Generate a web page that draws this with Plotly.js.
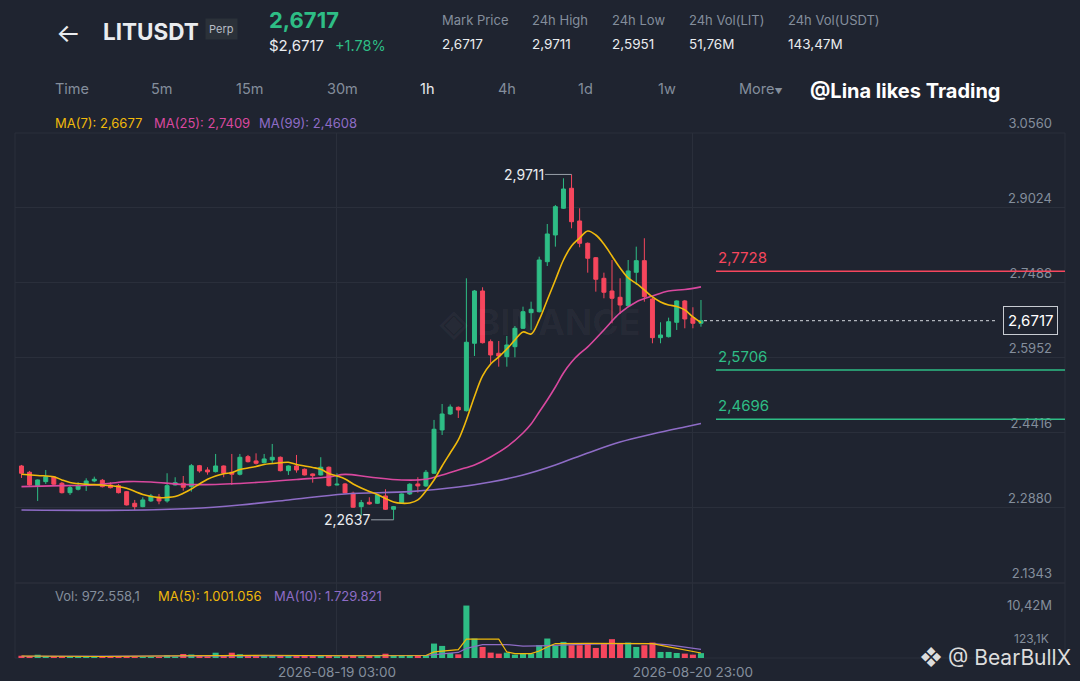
<!DOCTYPE html>
<html>
<head>
<meta charset="utf-8">
<script src="https://cdn.plot.ly/plotly-3.0.1.min.js"></script>
<style>
html,body{margin:0;padding:0;background:#1f2430;}
#chart{width:1080px;height:681px;}
</style>
</head>
<body>
<div id="chart"></div>
<script>
// ---------------- DATA ----------------
const startTime = '2026-08-17 12:00';   // first hourly candle
const openP = [2.3740,2.3611,2.3337,2.3419,2.3515,2.3386,2.3193,2.3263,2.3351,2.3433,
2.3447,2.3351,2.3337,2.3214,2.2976,2.2907,2.3024,2.3099,2.3024,2.3351,
2.3386,2.3317,2.3746,2.3658,2.3624,2.3740,2.3611,2.3570,2.3931,2.3843,
2.3808,2.3863,2.3918,2.3644,2.3740,2.3672,2.3577,2.3556,2.3714,2.3351,
2.3372,2.3181,2.2907,2.2997,2.2976,2.3126,2.2853,2.2976,2.3167,2.3372,
2.3331,2.3591,2.4478,2.4805,2.4942,2.4873,2.6253,2.7324,2.6286,2.6048,
2.5979,2.6183,2.6560,2.6880,2.6900,2.7924,2.8471,2.9018,2.9428,2.8758,
2.8301,2.8006,2.7584,2.7324,2.7195,2.7023,2.7707,2.7945,2.7160,2.6368,
2.6388,2.6683,2.7120,2.6778,2.6663];
const highP = [2.3761,2.3638,2.3464,2.3658,2.3535,2.3413,2.3341,2.3407,2.3488,2.3521,
2.3474,2.3407,2.3372,2.3228,2.3044,2.3099,2.3167,2.3167,2.3591,2.3509,
2.3535,2.3781,2.3761,2.3714,2.3986,2.3751,2.3986,2.3986,2.3966,2.3999,
2.3986,2.4191,2.3935,2.3751,2.3966,2.3689,2.3587,2.3919,2.3730,2.3591,
2.3392,2.3214,2.3044,2.3099,2.3157,2.3263,2.2921,2.3177,2.3386,2.3509,
2.3658,2.4683,2.5010,2.5000,2.4959,2.7584,2.7345,2.7400,2.6331,2.6300,
2.6403,2.6607,2.7003,2.7105,2.8027,2.8696,2.9086,2.9632,2.9711,2.9018,
2.8318,2.8020,2.7699,2.7959,2.7584,2.7959,2.8232,2.8404,2.7181,2.6683,
2.6778,2.7130,2.7140,2.6991,2.7140];
const lowP = [2.3495,2.3337,2.3024,2.3372,2.3351,2.3177,2.3146,2.3239,2.3228,2.3407,
2.3300,2.3280,2.3177,2.2931,2.2839,2.2895,2.3003,2.2956,2.2989,2.3341,
2.3235,2.3214,2.3603,2.3562,2.3607,2.3509,2.3351,2.3546,2.3812,2.3771,
2.3792,2.3796,2.3628,2.3556,2.3603,2.3546,2.3398,2.3546,2.3321,2.3341,
2.3177,2.2880,2.2716,2.2948,2.2962,2.2839,2.2637,2.2962,2.3146,2.3193,
2.3310,2.3577,2.4375,2.4785,2.4723,2.4856,2.5993,2.6249,2.5843,2.5774,
2.5774,2.5966,2.6546,2.6526,2.6884,2.7836,2.8232,2.9004,2.8608,2.8219,
2.7699,2.7310,2.7175,2.6663,2.6853,2.7007,2.7447,2.7105,2.6253,2.6253,
2.6372,2.6526,2.6560,2.6560,2.6593];
const closeP = [2.3591,2.3351,2.3454,2.3521,2.3366,2.3193,2.3296,2.3331,2.3433,2.3468,
2.3317,2.3296,2.3193,2.2942,2.2907,2.3044,2.3126,2.3024,2.3337,2.3398,
2.3304,2.3746,2.3638,2.3618,2.3740,2.3591,2.3570,2.3918,2.3828,2.3795,
2.3884,2.3918,2.3644,2.3740,2.3658,2.3556,2.3542,2.3714,2.3337,2.3366,
2.3188,2.2895,2.2989,2.2962,2.3146,2.2853,2.2907,2.3167,2.3366,2.3331,
2.3611,2.4492,2.4805,2.4948,2.4887,2.6274,2.7324,2.6265,2.6014,2.5993,
2.6218,2.6560,2.6900,2.6949,2.7959,2.8492,2.9051,2.9413,2.8743,2.8301,
2.7994,2.7564,2.7298,2.7175,2.7037,2.7734,2.7945,2.7208,2.6368,2.6423,
2.6695,2.7120,2.6751,2.6663,2.6717];
// volume in millions
const volumeM = [0.45,0.40,0.65,0.40,0.35,0.30,0.30,0.25,0.25,0.20,
0.25,0.20,0.25,0.30,0.25,0.20,0.25,0.20,0.55,0.30,
0.80,0.70,0.45,0.35,1.05,0.60,1.05,0.75,0.50,0.45,
0.60,0.50,0.55,0.45,0.50,0.45,0.40,0.50,0.45,0.35,
0.40,0.45,0.35,0.40,0.50,0.85,0.50,0.50,0.55,0.50,
0.55,2.87,2.40,1.00,0.73,10.42,3.87,2.20,1.07,0.87,
1.07,0.67,0.87,0.87,2.54,3.87,2.40,3.20,2.54,2.54,
2.87,2.00,2.87,3.74,2.87,3.07,2.20,2.54,3.07,1.20,
1.20,1.00,0.87,0.67,0.97];

// moving averages (candle index -> value)
const ma7Idx = [0,2,4,5,6,8,10,12,13,15,17,18,19,20,21,22,23,24,25,26,27,28,29,30,32,33,34,35,36,37,38,39,40,41,42,43,44,45,46,47,48,49,50,51,52,53,54,55,56,57,58,59,60,61,62,63,64,65,66,67,68,69,70,71,72,73,74,75,76,77,78,79,80,81,82,83,84];
const ma7Val = [2.3570,2.3546,2.3521,2.3454,2.3403,2.3366,2.3351,2.3317,2.3284,2.3157,2.3091,2.3095,2.3116,2.3181,2.3269,2.3372,2.3468,2.3535,2.3581,2.3603,2.3669,2.3699,2.3730,2.3771,2.3805,2.3816,2.3771,2.3740,2.3710,2.3673,2.3586,2.3535,2.3474,2.3372,2.3290,2.3218,2.3157,2.3075,2.3003,2.2976,2.2983,2.3044,2.3228,2.3454,2.3740,2.4006,2.4273,2.4682,2.5164,2.5584,2.5829,2.5973,2.6136,2.6321,2.6485,2.6444,2.6731,2.7141,2.7550,2.7959,2.8246,2.8410,2.8553,2.8471,2.8287,2.8041,2.7796,2.7591,2.7478,2.7345,2.7202,2.7100,2.7038,2.7007,2.6936,2.6792,2.6677];
const ma25Idx = [0,5,9,11,13,16,20,24,27,30,34,38,40,43,47,50,52,54,56,58,60,62,63,64,65,66,67,68,69,70,72,74,76,78,80,82,84];
const ma25Val = [2.3317,2.3337,2.3351,2.3386,2.3419,2.3413,2.3362,2.3362,2.3382,2.3413,2.3464,2.3515,2.3567,2.3515,2.3454,2.3468,2.3556,2.3659,2.3761,2.3925,2.4130,2.4416,2.4600,2.4846,2.5092,2.5358,2.5645,2.5870,2.6040,2.6180,2.6526,2.6874,2.7100,2.7222,2.7325,2.7355,2.7409];
const ma99Idx = [0,13,21,27,33,40,48,54,58,62,66,70,74,78,82,84];
const ma99Val = [2.2839,2.2833,2.2870,2.2942,2.3044,2.3167,2.3214,2.3310,2.3413,2.3556,2.3761,2.4006,2.4231,2.4395,2.4539,2.4608];
const vma5Idx = [0,10,20,30,40,50,51,53,54,55,59,60,61,63,64,65,66,70,74,78,80,82,84];
const vma5Val = [0.40,0.30,0.45,0.55,0.45,0.50,1.20,1.50,1.67,3.74,3.74,1.20,0.87,0.87,1.40,2.20,2.87,2.90,2.90,2.87,2.20,1.54,1.00];
const vma10Idx = [0,20,40,50,52,53,54,55,57,60,62,64,66,68,70,74,78,80,82,84];
const vma10Val = [0.35,0.45,0.45,0.50,0.80,1.00,1.10,1.90,2.67,2.67,2.34,2.40,2.55,2.67,2.75,2.87,2.87,2.60,2.20,1.73];

// axis ticks and levels
const priceTicks = [3.0560,2.9024,2.7488,2.5952,2.4416,2.2880,2.1343];
const priceTickText = ['3.0560','2.9024','2.7488','2.5952','2.4416','2.2880','2.1343'];
const timeTicks = ['2026-08-19 03:00','2026-08-20 23:00'];
const levels = [2.7728, 2.5706, 2.4696];
const levelText = ['2,7728','2,5706','2,4696'];
const lastPrice = 2.6717;
const peakHigh = 2.9711, troughLow = 2.2637;

// ---------------- BUILD ----------------
const GREEN = '#2ebd85', RED = '#f6465d', YEL = '#f0b90b', PINK = '#d9489f', PURP = '#8e6cc6';
const GRID = '#2a2f3b', BG = '#1f2430', GRAY = '#848e9c', WHITE = '#eaecef';
const FONT = 'Inter, "Noto Sans", sans-serif';

function fmt(d){ return d.toISOString().slice(0,16).replace('T',' '); }
const t0 = new Date(startTime.replace(' ','T') + ':00Z').getTime();
const times = openP.map((_, i) => fmt(new Date(t0 + i*3600000)));
const pick = (idx) => idx.map(i => times[i]);

const W = 1080, H = 681;
const px = x => x / W, py = y => 1 - y / H;

const traces = [
  {type:'candlestick', x:times, open:openP, high:highP, low:lowP, close:closeP,
   xaxis:'x', yaxis:'y', whiskerwidth:0,
   increasing:{line:{color:GREEN,width:1}, fillcolor:GREEN},
   decreasing:{line:{color:RED,width:1}, fillcolor:RED}, hoverinfo:'skip', showlegend:false},
  {type:'scatter', mode:'lines', x:pick(ma99Idx), y:ma99Val, line:{color:PURP,width:1.6,shape:'spline'}, xaxis:'x', yaxis:'y', hoverinfo:'skip'},
  {type:'scatter', mode:'lines', x:pick(ma25Idx), y:ma25Val, line:{color:PINK,width:1.6,shape:'spline'}, xaxis:'x', yaxis:'y', hoverinfo:'skip'},
  {type:'scatter', mode:'lines', x:pick(ma7Idx), y:ma7Val, line:{color:YEL,width:1.6,shape:'spline'}, xaxis:'x', yaxis:'y', hoverinfo:'skip'},
  {type:'bar', x:times, y:volumeM.map(v => v*1e6), xaxis:'x', yaxis:'y2',
   marker:{color:closeP.map((c,i) => c >= openP[i] ? GREEN : RED), line:{width:0}}, hoverinfo:'skip'},
  {type:'scatter', mode:'lines', x:pick(vma10Idx), y:vma10Val.map(v=>v*1e6), line:{color:PURP,width:1.2}, xaxis:'x', yaxis:'y2', hoverinfo:'skip'},
  {type:'scatter', mode:'lines', x:pick(vma5Idx), y:vma5Val.map(v=>v*1e6), line:{color:YEL,width:1.2}, xaxis:'x', yaxis:'y2', hoverinfo:'skip'}
];

function txt(x, y, text, size, color, extra){
  return Object.assign({xref:'paper', yref:'paper', x:px(x), y:py(y), text:text, showarrow:false,
    xanchor:'left', yanchor:'middle', font:{size:size, color:color, family:FONT}}, extra||{});
}

const ann = [
  txt(54, 32, '←', 26, WHITE),
  txt(101, 31, '<b>LITUSDT</b>', 22.5, WHITE),
  txt(205, 29, 'Perp', 11, '#b7bdc6', {bgcolor:'#2b3139', borderpad:3}),
  txt(267, 20, '<b>2,6717</b>', 22, GREEN),
  txt(267, 46, '$2,6717', 15, WHITE),
  txt(333, 46, '+1.78%', 14.5, GREEN),
  txt(440, 20, 'Mark Price', 13, GRAY), txt(440, 44, '2,6717', 13.5, WHITE),
  txt(530, 20, '24h High', 13, GRAY),   txt(530, 44, '2,9711', 13.5, WHITE),
  txt(610, 20, '24h Low', 13, GRAY),    txt(610, 44, '2,5951', 13.5, WHITE),
  txt(687, 20, '24h Vol(LIT)', 13, GRAY), txt(687, 44, '51,76M', 13.5, WHITE),
  txt(786, 20, '24h Vol(USDT)', 13, GRAY), txt(786, 44, '143,47M', 13.5, WHITE),
  txt(53, 88, 'Time', 14.5, GRAY),
  txt(149, 88, '5m', 14.5, GRAY),
  txt(234, 88, '15m', 14.5, GRAY),
  txt(325, 88, '30m', 14.5, GRAY),
  txt(418, 88, '1h', 14.5, WHITE),
  txt(496, 88, '4h', 14.5, GRAY),
  txt(576, 88, '1d', 14.5, GRAY),
  txt(656, 88, '1w', 14.5, GRAY),
  txt(737, 88, 'More<span style="font-size:8px">▼</span>', 14.5, GRAY),
  txt(808, 91, '<b>@Lina likes Trading</b>', 20, '#ffffff'),
  txt(53, 123, 'MA(7): 2,6677', 13, YEL),
  txt(152, 123, 'MA(25): 2,7409', 13, PINK),
  txt(257, 123, 'MA(99): 2,4608', 13, PURP),
  txt(53, 596, 'Vol: 972.558,1', 13, GRAY),
  txt(156, 596, 'MA(5): 1.001.056', 13, YEL),
  txt(272, 596, 'MA(10): 1.729.821', 13, PURP),
  txt(1051, 638, '123,1K', 12, GRAY, {xanchor:'right'}),
  txt(540, 322, '<b>◈ BINANCE</b>', 36, 'rgba(255,255,255,0.035)', {xanchor:'center'}),
  txt(1073, 657, '❖ @ BearBullX', 21, '#dcdcdc', {xanchor:'right'}),
  // high / low markers
  {xref:'x', yref:'y', x:times[highP.indexOf(peakHigh)], y:peakHigh, text:'2,9711', showarrow:true,
   arrowhead:0, arrowwidth:1, arrowcolor:'#9aa0a8', ax:-48, ay:0, font:{size:14,color:WHITE,family:FONT}},
  {xref:'x', yref:'y', x:times[lowP.indexOf(troughLow)], y:troughLow, text:'2,2637', showarrow:true,
   arrowhead:0, arrowwidth:1, arrowcolor:'#9aa0a8', ax:-47, ay:0, font:{size:14,color:WHITE,family:FONT}},
  // last price box
  {xref:'paper', yref:'y', x:px(1030), y:lastPrice, text:'2,6717', showarrow:false, xanchor:'center', yanchor:'middle',
   bgcolor:BG, bordercolor:'#c8ccd2', borderwidth:1, borderpad:4, font:{size:15,color:'#ffffff',family:FONT}}
];
levels.forEach((lv, k) => {
  ann.push({xref:'paper', yref:'y', x:px(716), y:lv, text:levelText[k], showarrow:false,
    xanchor:'left', yanchor:'bottom', yshift:2, font:{size:15, color: k===0 ? RED : GREEN, family:FONT}});
});

const shapes = [
  {type:'rect', xref:'paper', yref:'paper', x0:px(15), x1:px(1065), y0:py(583), y1:py(133), line:{color:GRID,width:1}, layer:'below'},
  {type:'rect', xref:'paper', yref:'paper', x0:px(15), x1:px(1065), y0:py(658), y1:py(583), line:{color:GRID,width:1}, layer:'below'},
  {type:'line', xref:'paper', yref:'y', x0:px(704), x1:px(998), y0:lastPrice, y1:lastPrice, line:{color:'#b0b4bb', width:1.2, dash:'dot'}}
];
levels.forEach((lv, k) => {
  shapes.push({type:'line', xref:'paper', yref:'y', x0:px(716), x1:px(1065), y0:lv, y1:lv,
    line:{color: k===0 ? RED : GREEN, width:1.5}});
});

const layout = {
  width:W, height:H, margin:{l:0,r:0,t:0,b:0},
  paper_bgcolor:BG, plot_bgcolor:BG, showlegend:false, bargap:0.25,
  font:{family:FONT, color:GRAY},
  xaxis:{domain:[px(15), px(1065)], anchor:'y2', type:'date',
    range:['2026-08-17 11:12','2026-08-22 21:00'],
    tickvals:timeTicks, ticktext:timeTicks, showgrid:true, gridcolor:GRID, gridwidth:1,
    zeroline:false, showline:false, ticks:'', tickfont:{size:13.5,color:GRAY,family:FONT},
    ticklabelstandoff:4, rangeslider:{visible:false}, fixedrange:true},
  yaxis:{domain:[1-583/H, 1-133/H], range:[2.1343, 3.0560], side:'right', anchor:'x',
    tickvals:priceTicks, ticktext:priceTickText, ticklabelposition:'inside top', ticklabeloverflow:'allow',
    ticklabelstandoff:10, showgrid:true, gridcolor:GRID, gridwidth:1, zeroline:false, ticks:'',
    tickfont:{size:13,color:GRAY,family:FONT}, fixedrange:true},
  yaxis2:{domain:[1-658/H, 1-583/H], range:[0, 14.9e6], side:'right', anchor:'x',
    tickvals:[10.42e6], ticktext:['10,42M'], ticklabelposition:'inside', ticklabeloverflow:'allow',
    ticklabelstandoff:10, showgrid:false, zeroline:false, ticks:'',
    tickfont:{size:13,color:GRAY,family:FONT}, fixedrange:true},
  annotations:ann, shapes:shapes
};

Plotly.newPlot('chart', traces, layout, {staticPlot:true, displayModeBar:false});
</script>
</body>
</html>
